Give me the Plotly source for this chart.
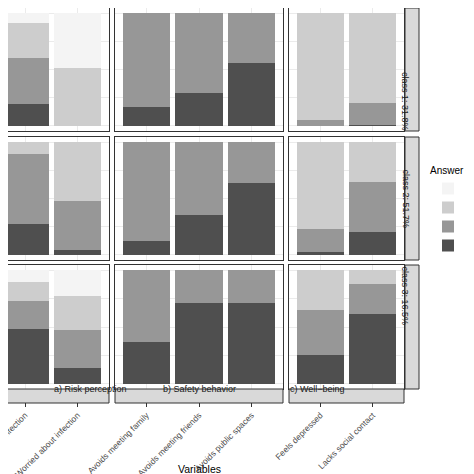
import plotly.graph_objects as go

groups = ["a) Risk perception", "b) Safety behavior", "c) Well\u2212being"]
group_vars = [
    ["Likelihood of infection", "Worried about infection"],
    ["Avoids meeting family", "Avoids meeting friends", "Avoids public spaces"],
    ["Feels depressed", "Lacks social contact"],
]
classes = ["class 1: 31.8%", "class 2: 51.7%", "class 3: 16.5%"]
categories = ["1", "2", "3", "4"]
colors = ["#4f4f4f", "#979797", "#cdcdcd", "#f4f4f4"]

# values per class, per category, across the 7 variables (in order above)
class1_cat1 = [0.19, 0.00, 0.17, 0.29, 0.56, 0.00, 0.01]
class1_cat2 = [0.41, 0.00, 0.83, 0.71, 0.44, 0.05, 0.19]
class1_cat3 = [0.31, 0.51, 0.00, 0.00, 0.00, 0.95, 0.80]
class1_cat4 = [0.09, 0.49, 0.00, 0.00, 0.00, 0.00, 0.00]
class2_cat1 = [0.27, 0.04, 0.12, 0.35, 0.64, 0.03, 0.20]
class2_cat2 = [0.62, 0.44, 0.88, 0.65, 0.36, 0.20, 0.45]
class2_cat3 = [0.11, 0.52, 0.00, 0.00, 0.00, 0.77, 0.35]
class2_cat4 = [0.00, 0.00, 0.00, 0.00, 0.00, 0.00, 0.00]
class3_cat1 = [0.48, 0.14, 0.37, 0.71, 0.71, 0.25, 0.61]
class3_cat2 = [0.25, 0.33, 0.63, 0.29, 0.29, 0.40, 0.27]
class3_cat3 = [0.17, 0.30, 0.00, 0.00, 0.00, 0.35, 0.12]
class3_cat4 = [0.10, 0.23, 0.00, 0.00, 0.00, 0.00, 0.00]

values = [
    [class1_cat1, class1_cat2, class1_cat3, class1_cat4],
    [class2_cat1, class2_cat2, class2_cat3, class2_cat4],
    [class3_cat1, class3_cat2, class3_cat3, class3_cat4],
]

W = H = 474
col_px = [(-14, 101), (107, 275), (281, 396)]
row_px = [(0, 123), (129, 252), (257, 381)]
xranges = [[0.676 - 1, 1.6], [-0.6, 2.6], [-0.6, 1.6]]

fig = go.Figure()
layout = {}
offsets = [0, 2, 5]
for r in range(3):
    for c in range(3):
        k = r * 3 + c + 1
        xa = "x" if k == 1 else f"x{k}"
        ya = "y" if k == 1 else f"y{k}"
        vars_ = group_vars[c]
        o = offsets[c]
        for ci, cat in enumerate(categories):
            fig.add_trace(go.Bar(
                x=vars_, y=values[r][ci][o:o + len(vars_)],
                name=cat, legendgroup=cat, showlegend=(k == 1),
                marker=dict(color=colors[ci], line=dict(width=0)),
                width=0.9, xaxis=xa, yaxis=ya,
            ))
        x0 = max(col_px[c][0], 0) / W
        x1 = col_px[c][1] / W
        y0 = 1 - row_px[r][1] / H
        y1 = 1 - row_px[r][0] / H
        layout["xaxis" if k == 1 else f"xaxis{k}"] = dict(
            domain=[x0, x1], anchor=ya, range=xranges[c], type="category",
            categoryorder="array", categoryarray=vars_, automargin=False,
            showgrid=True, gridcolor="#ebebeb", gridwidth=1,
            showline=True, mirror=True, linecolor="#333333", linewidth=1,
            showticklabels=(r == 2), ticks="outside" if r == 2 else "",
            ticklen=17, tickcolor="#333333", tickangle=-45,
            tickfont=dict(family="Liberation Sans", size=8.5, color="#4d4d4d"),
            zeroline=False,
        )
        layout["yaxis" if k == 1 else f"yaxis{k}"] = dict(
            domain=[y0, y1], anchor=xa, range=[-0.045, 1.045], automargin=False,
            tickvals=[0, 0.25, 0.5, 0.75, 1], showticklabels=False, ticks="",
            showgrid=True, gridcolor="#ebebeb", gridwidth=1,
            showline=True, mirror=True, linecolor="#333333", linewidth=1,
            zeroline=False,
        )

shapes = []
annotations = []
# bottom strips
for c in range(3):
    x0, x1 = col_px[c]
    shapes.append(dict(type="rect", xref="paper", yref="paper", layer="above",
                       x0=x0 / W, x1=x1 / W, y0=1 - 395 / H, y1=1 - 381 / H,
                       fillcolor="#d9d9d9", line=dict(color="#333333", width=1)))
    annotations.append(dict(xref="paper", yref="paper", x=(x0 + x1) / 2 / W,
                            y=1 - 388 / H, text=groups[c], showarrow=False,
                            font=dict(family="Liberation Sans", size=9, color="#1a1a1a")))
# right strips
for r in range(3):
    y0, y1 = row_px[r]
    shapes.append(dict(type="rect", xref="paper", yref="paper", layer="above",
                       x0=397 / W, x1=411 / W, y0=1 - y1 / H, y1=1 - y0 / H,
                       fillcolor="#d9d9d9", line=dict(color="#333333", width=1)))
    annotations.append(dict(xref="paper", yref="paper", x=404 / W,
                            y=1 - (y0 + y1) / 2 / H, text=classes[r], showarrow=False,
                            textangle=90,
                            font=dict(family="Liberation Sans", size=9, color="#1a1a1a")))
annotations.append(dict(xref="paper", yref="paper", x=191 / W, y=1 - 469 / H,
                        text="Variables", showarrow=False,
                        font=dict(family="Liberation Sans", size=10.5, color="#000000")))

fig.update_layout(
    **layout,
    width=W, height=H, margin=dict(l=0, r=0, t=0, b=0, autoexpand=False),
    barmode="stack", bargap=0.1,
    paper_bgcolor="white", plot_bgcolor="white",
    shapes=shapes, annotations=annotations,
    legend=dict(title=dict(text="Answer Category",
                           font=dict(family="Liberation Sans", size=10, color="#000")),
                traceorder="reversed", x=420 / W, y=1 - 153 / H,
                xanchor="left", yanchor="top", tracegroupgap=0,
                font=dict(family="Liberation Sans", size=8, color="#1a1a1a"),
                bgcolor="rgba(0,0,0,0)"),
)
fig.write_html("out.html")
